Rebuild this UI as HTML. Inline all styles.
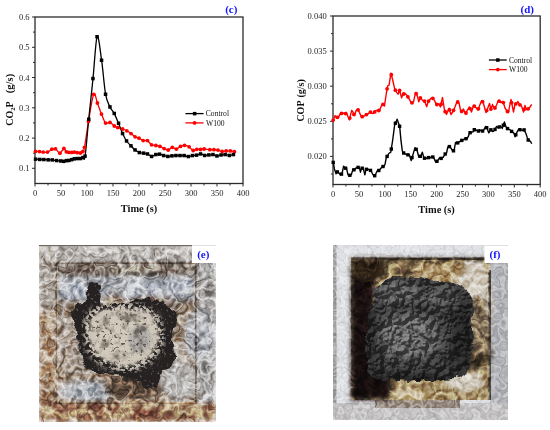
<!DOCTYPE html>
<html><head><meta charset="utf-8"><style>
html,body{margin:0;padding:0;background:#fff;}
body{width:550px;height:430px;overflow:hidden;}
svg{display:block;}
</style></head><body>
<svg width="550" height="430" viewBox="0 0 550 430">
<defs>
 <filter id="soft3" x="-5%" y="-5%" width="110%" height="110%"><feGaussianBlur stdDeviation="2.5"/></filter>
 <filter id="soft2" x="-5%" y="-5%" width="110%" height="110%"><feGaussianBlur stdDeviation="1.5"/></filter>
 <filter id="soft07" x="-5%" y="-5%" width="110%" height="110%"><feGaussianBlur stdDeviation="0.7"/></filter>
 <filter id="soft1" x="-5%" y="-5%" width="110%" height="110%"><feGaussianBlur stdDeviation="1"/></filter>
 <filter id="foilBig" x="0" y="0" width="100%" height="100%" color-interpolation-filters="sRGB">
  <feTurbulence type="fractalNoise" baseFrequency="0.035" numOctaves="3" seed="7" result="n"/>
  <feColorMatrix in="n" type="matrix" values="1 0 0 0 0  1 0 0 0 0  1 0 0 0 0  0 0 0 0 1"/>
  <feComponentTransfer><feFuncR type="table" tableValues="0.5 0.22 0.8 0.35 0.62 0.2 0.88 0.45 0.15 0.75 0.4 0.6"/><feFuncG type="table" tableValues="0.5 0.22 0.8 0.35 0.62 0.2 0.88 0.45 0.15 0.75 0.4 0.6"/><feFuncB type="table" tableValues="0.5 0.22 0.8 0.35 0.62 0.2 0.88 0.45 0.15 0.75 0.4 0.6"/></feComponentTransfer>
 </filter>
 <filter id="foilSmall" x="0" y="0" width="100%" height="100%" color-interpolation-filters="sRGB">
  <feTurbulence type="fractalNoise" baseFrequency="0.09" numOctaves="2" seed="4" result="n"/>
  <feColorMatrix in="n" type="matrix" values="1 0 0 0 0  1 0 0 0 0  1 0 0 0 0  0 0 0 0 1"/>
  <feComponentTransfer><feFuncR type="table" tableValues="0.5 0.22 0.8 0.35 0.62 0.2 0.88 0.45 0.15 0.75 0.4 0.6"/><feFuncG type="table" tableValues="0.5 0.22 0.8 0.35 0.62 0.2 0.88 0.45 0.15 0.75 0.4 0.6"/><feFuncB type="table" tableValues="0.5 0.22 0.8 0.35 0.62 0.2 0.88 0.45 0.15 0.75 0.4 0.6"/></feComponentTransfer>
 </filter>
 <filter id="creaseS" x="0" y="0" width="100%" height="100%" color-interpolation-filters="sRGB">
  <feTurbulence type="turbulence" baseFrequency="0.11" numOctaves="2" seed="5" result="n"/>
  <feColorMatrix in="n" type="matrix" values="0 0 0 0 0.22  0 0 0 0 0.22  0 0 0 0 0.24  -6 0 0 0 1.1"/>
 </filter>
 <filter id="creaseL" x="0" y="0" width="100%" height="100%" color-interpolation-filters="sRGB">
  <feTurbulence type="turbulence" baseFrequency="0.04" numOctaves="2" seed="15" result="n"/>
  <feColorMatrix in="n" type="matrix" values="0 0 0 0 0.2  0 0 0 0 0.18  0 0 0 0 0.16  -7 0 0 0 1.0"/>
 </filter>
 <filter id="ashTex" x="0" y="0" width="100%" height="100%" color-interpolation-filters="sRGB">
  <feTurbulence type="fractalNoise" baseFrequency="0.09" numOctaves="3" seed="11" result="n"/>
  <feColorMatrix in="n" type="matrix" values="0 0 0 0 1  0 0 0 0 1  0 0 0 0 1  0 0 0 -4 2.1" result="a"/>
  <feFlood flood-color="rgb(150,146,142)"/>
  <feComposite in2="a" operator="in" result="mott"/>
  <feTurbulence type="fractalNoise" baseFrequency="0.3" numOctaves="2" seed="13" result="n2"/>
  <feColorMatrix in="n2" type="matrix" values="0 0 0 0 1  0 0 0 0 1  0 0 0 0 1  0 0 0 -10 3.8" result="a2"/>
  <feFlood flood-color="rgb(120,114,108)"/>
  <feComposite in2="a2" operator="in" result="specks"/>
  <feFlood flood-color="#fff" result="w"/>
  <feComposite in="mott" in2="w" operator="over" result="m1"/>
  <feComposite in="specks" in2="m1" operator="over"/>
 </filter>
 <filter id="charTex" x="0" y="0" width="100%" height="100%" color-interpolation-filters="sRGB">
  <feTurbulence type="fractalNoise" baseFrequency="0.33" numOctaves="2" seed="3" result="n"/>
  <feColorMatrix type="matrix" values="0 0 0 0 0.55  0 0 0 0 0.53  0 0 0 0 0.51  0 0 0 9 -5.9"/>
 </filter>
 <filter id="charTex2" x="0" y="0" width="100%" height="100%" color-interpolation-filters="sRGB">
  <feTurbulence type="fractalNoise" baseFrequency="0.07" numOctaves="4" seed="9" result="n"/>
  <feComponentTransfer in="n" result="n2"><feFuncA type="table" tableValues="0 1 0.1 0.9 0"/></feComponentTransfer>
  <feSpecularLighting in="n2" surfaceScale="5" specularConstant="0.8" specularExponent="9" lighting-color="#fff" result="s"><feDistantLight azimuth="235" elevation="50"/></feSpecularLighting>
  <feDiffuseLighting in="n2" surfaceScale="5" lighting-color="#fff" diffuseConstant="0.8" result="d"><feDistantLight azimuth="235" elevation="32"/></feDiffuseLighting>
  <feComposite in="d" in2="s" operator="arithmetic" k2="0.75" k3="0.3"/>
 </filter>
 <filter id="soft5" x="-20%" y="-20%" width="140%" height="140%"><feGaussianBlur stdDeviation="4.5"/></filter>
 <filter id="soft8" x="-20%" y="-20%" width="140%" height="140%"><feGaussianBlur stdDeviation="7"/></filter>
 <filter id="rough2" x="-8%" y="-8%" width="116%" height="116%">
  <feTurbulence type="fractalNoise" baseFrequency="0.1" numOctaves="3" seed="6" result="t"/>
  <feDisplacementMap in="SourceGraphic" in2="t" scale="9" xChannelSelector="R" yChannelSelector="G" result="dd"/>
  <feGaussianBlur in="dd" stdDeviation="0.5"/>
 </filter>
 <filter id="rough" x="-5%" y="-5%" width="110%" height="110%">
  <feTurbulence type="fractalNoise" baseFrequency="0.15" numOctaves="2" seed="2" result="t"/>
  <feDisplacementMap in="SourceGraphic" in2="t" scale="6" xChannelSelector="R" yChannelSelector="G" result="dd"/>
  <feGaussianBlur in="dd" stdDeviation="0.6"/>
 </filter>
 <filter id="edgeSpecks" x="0" y="0" width="100%" height="100%" color-interpolation-filters="sRGB">
  <feTurbulence type="fractalNoise" baseFrequency="0.28" numOctaves="2" seed="17" result="n"/>
  <feColorMatrix type="matrix" values="0 0 0 0 0.8  0 0 0 0 0.77  0 0 0 0 0.72  0 0 0 8 -3.6"/>
 </filter>
 <filter id="mblur" x="-10%" y="-10%" width="120%" height="120%"><feGaussianBlur stdDeviation="2.5"/></filter>
 <mask id="ashEdgeMask" maskUnits="userSpaceOnUse" x="0" y="0" width="550" height="430"><path d="M90.6 320.2C92.1 317.7 94.9 313.9 98 312.1C101 310.3 105 310 109 309.4C113 308.8 117.5 308.5 121.8 308.5C126.1 308.5 130.6 308.8 134.6 309.4C138.6 310 142.5 310.6 145.5 312.1C148.6 313.6 151 315.9 152.9 318.4C154.7 321 155.6 324.5 156.6 327.5C157.5 330.5 158.3 333.5 158.3 336.5C158.3 339.6 157.8 343 156.6 345.7C155.3 348.4 153.2 350.5 151.1 352.9C149 355.3 146.8 358 143.7 360.2C140.7 362.3 136.4 364.6 132.7 365.6C129.1 366.5 125.5 366.5 121.8 366.1C118.1 365.6 114.1 364.3 110.8 363C107.4 361.6 104.2 359.6 101.6 357.8C99 355.9 96.9 354.1 95.2 352C93.5 350 92.5 348.6 91.6 345.7C90.6 342.8 90.1 337.8 89.7 334.8C89.3 331.7 89 329.9 89.1 327.5C89.3 325.1 89.1 322.8 90.6 320.2Z" fill="none" stroke="#fff" stroke-width="13" filter="url(#mblur)"/></mask>
 <clipPath id="eAshClip"><path d="M90.6 320.2C92.1 317.7 94.9 313.9 98 312.1C101 310.3 105 310 109 309.4C113 308.8 117.5 308.5 121.8 308.5C126.1 308.5 130.6 308.8 134.6 309.4C138.6 310 142.5 310.6 145.5 312.1C148.6 313.6 151 315.9 152.9 318.4C154.7 321 155.6 324.5 156.6 327.5C157.5 330.5 158.3 333.5 158.3 336.5C158.3 339.6 157.8 343 156.6 345.7C155.3 348.4 153.2 350.5 151.1 352.9C149 355.3 146.8 358 143.7 360.2C140.7 362.3 136.4 364.6 132.7 365.6C129.1 366.5 125.5 366.5 121.8 366.1C118.1 365.6 114.1 364.3 110.8 363C107.4 361.6 104.2 359.6 101.6 357.8C99 355.9 96.9 354.1 95.2 352C93.5 350 92.5 348.6 91.6 345.7C90.6 342.8 90.1 337.8 89.7 334.8C89.3 331.7 89 329.9 89.1 327.5C89.3 325.1 89.1 322.8 90.6 320.2Z"/></clipPath>
 <clipPath id="eDarkClip"><path d="M100.8 301.7C102.6 303.7 107.6 306 111.4 306.3C115.2 306.6 119.5 304.3 123.5 303.3C127.5 302.3 131.6 301 135.6 300.2C139.6 299.4 143.7 298.7 147.7 298.7C151.7 298.7 156.5 299.2 159.8 300.2C163.1 301.2 165 302.8 167.3 304.8C169.6 306.8 171.9 309.5 173.4 312.3C174.9 315.1 176.2 318.4 176.4 321.4C176.7 324.4 175.7 327.5 174.9 330.5C174.2 333.5 172.2 336.5 171.9 339.5C171.7 342.5 172.9 345.6 173.4 348.6C173.9 351.6 175.4 354.7 174.9 357.7C174.4 360.7 172.3 364.7 170.3 366.7C168.3 368.7 164.6 367.8 162.8 369.8C161.1 371.8 160.8 376 159.8 378.8C158.8 381.6 158.5 384.9 156.7 386.4C154.9 387.9 151.7 388.1 149.2 387.9C146.7 387.6 144.4 386.4 141.6 384.9C138.8 383.4 136.1 380.3 132.6 378.8C129.1 377.3 124.5 376.6 120.5 375.8C116.5 375.1 112.4 374.8 108.4 374.3C104.4 373.8 99.8 374.1 96.3 372.8C92.8 371.5 89.7 369.2 87.2 366.7C84.7 364.2 82.7 361.2 81.2 357.7C79.7 354.2 78.9 349.6 78.1 345.6C77.3 341.6 77.3 337.3 76.6 333.5C75.8 329.7 74.3 326.4 73.6 322.9C72.8 319.4 71.8 315.1 72.1 312.3C72.3 309.5 73.3 307.6 75.1 306.3C76.9 305.1 80.9 305.8 82.7 304.8C84.5 303.8 85.2 302.5 85.7 300.2C86.2 297.9 85.2 293.7 85.7 291.2C86.2 288.7 87.2 286.4 88.7 285.1C90.2 283.8 93 283.4 94.8 283.6C96.6 283.9 98.3 284.8 99.3 286.6C100.3 288.4 100.5 291.7 100.8 294.2C101 296.7 99 299.7 100.8 301.7Z"/></clipPath>
 <clipPath id="fCharClip"><path d="M377 288C379 284.8 381.2 283 384 281C386.8 279 390.5 276.7 394 276C397.5 275.3 401.3 276.5 405 277C408.7 277.5 412.2 278.7 416 279C419.8 279.3 424 278.5 428 279C432 279.5 436 281.3 440 282C444 282.7 448.3 282.2 452 283C455.7 283.8 459.2 285.2 462 287C464.8 288.8 467.3 291 469 294C470.7 297 471.5 301 472 305C472.5 309 472.2 313.5 472 318C471.8 322.5 470.8 327.3 471 332C471.2 336.7 473 341.3 473 346C473 350.7 472 355.7 471 360C470 364.3 469.2 369.2 467 372C464.8 374.8 461.7 375.7 458 377C454.3 378.3 449.7 379.3 445 380C440.3 380.7 435 380.8 430 381C425 381.2 420 381.2 415 381C410 380.8 404.5 380.3 400 380C395.5 379.7 392.2 379.5 388 379C383.8 378.5 378.3 378.5 375 377C371.7 375.5 369.5 373.7 368 370C366.5 366.3 366.2 360.8 366 355C365.8 349.2 366.5 341.2 367 335C367.5 328.8 368.2 323.8 369 318C369.8 312.2 370.7 305 372 300C373.3 295 375 291.2 377 288Z"/></clipPath>
</defs>
<rect width="550" height="430" fill="#fff"/>
<rect x="35" y="17" width="208" height="166.5" fill="none" stroke="#2b2b2b" stroke-width="1.3"/><path d="M35 183.5v3M48 183.5v2M61 183.5v3M74 183.5v2M87 183.5v3M100 183.5v2M113 183.5v3M126 183.5v2M139 183.5v3M152 183.5v2M165 183.5v3M178 183.5v2M191 183.5v3M204 183.5v2M217 183.5v3M230 183.5v2M243 183.5v3M35 168.3h-3M35 138.1h-3M35 107.8h-3M35 77.5h-3M35 47.3h-3M35 17h-3M35 153.2h-2M35 122.9h-2M35 92.7h-2M35 62.4h-2M35 32.1h-2" stroke="#2b2b2b" stroke-width="1" fill="none"/><g font-family="Liberation Serif, serif" font-size="8.5" fill="#262626"><text x="35" y="196" text-anchor="middle">0</text><text x="61" y="196" text-anchor="middle">50</text><text x="87" y="196" text-anchor="middle">100</text><text x="113" y="196" text-anchor="middle">150</text><text x="139" y="196" text-anchor="middle">200</text><text x="165" y="196" text-anchor="middle">250</text><text x="191" y="196" text-anchor="middle">300</text><text x="217" y="196" text-anchor="middle">350</text><text x="243" y="196" text-anchor="middle">400</text><text x="29.5" y="171.3" text-anchor="end">0.1</text><text x="29.5" y="141.1" text-anchor="end">0.2</text><text x="29.5" y="110.8" text-anchor="end">0.3</text><text x="29.5" y="80.5" text-anchor="end">0.4</text><text x="29.5" y="50.3" text-anchor="end">0.5</text><text x="29.5" y="20" text-anchor="end">0.6</text></g><text x="139" y="211.7" text-anchor="middle" font-family="Liberation Serif, serif" font-weight="bold" font-size="10.4" fill="#111">Time (s)</text><g font-family="Liberation Serif, serif" font-weight="bold" font-size="10" fill="#111"><text transform="translate(12.8 125.8) rotate(-90)">CO<tspan font-size="6.5" dy="2">2</tspan><tspan dy="-2">P</tspan></text><text transform="translate(12.8 73.8) rotate(-90)" text-anchor="end" font-size="10.6">(g/s)</text></g><path d="M35.5 151.4C36.2 151.4 38.2 151.5 39.5 151.6C40.8 151.7 41.9 152 43.2 152.1C44.5 152.2 46 152.6 47.5 152.1C49 151.6 50.6 149.8 51.9 149.2C53.2 148.6 54.2 148.1 55.5 148.8C56.8 149.5 58.5 153.2 59.9 153.2C61.3 153.1 62.8 148.7 63.9 148.5C65 148.3 65.6 151.2 66.4 151.8C67.2 152.5 68 152.3 68.9 152.4C69.8 152.5 70.9 152.5 71.8 152.4C72.7 152.3 73.4 152.1 74.3 152.1C75.2 152.1 76.2 152.5 77.2 152.7C78.2 152.8 79.5 153.2 80.4 153C81.4 152.8 82.2 152.4 82.9 151.5C83.6 150.6 83.6 152.3 84.5 147.3C85.4 142.3 87 130.3 88.5 121.5C90 112.7 92.2 97.4 93.7 94.3C95.2 91.2 96.1 99.7 97.4 103C98.7 106.3 100.1 110.8 101.5 114.1C102.9 117.4 104.2 121.7 105.6 123.1C107 124.5 108.5 121.9 110 122.4C111.5 122.9 113 125.1 114.3 126C115.6 126.9 116.3 127.1 117.7 127.6C119.1 128.1 121.1 128.5 122.6 129C124.1 129.5 125.4 130 126.8 130.8C128.2 131.6 129.6 132.6 131 133.6C132.4 134.6 133.8 136 135.1 136.8C136.4 137.6 137.7 137.6 139 138.2C140.3 138.8 141.8 140.2 143.2 140.6C144.6 141 146 139.9 147.4 140.6C148.8 141.3 150.2 144 151.6 144.8C153 145.6 154.5 145.2 155.9 145.5C157.3 145.8 158.6 145.9 160 146.4C161.4 146.9 162.7 148 164.1 148.6C165.5 149.2 166.8 150.2 168.2 150C169.6 149.8 170.9 147.5 172.3 147.3C173.7 147.2 175 149.2 176.4 149.1C177.8 148.9 179.2 147 180.5 146.4C181.8 145.8 183.1 145.2 184.5 145.3C185.9 145.4 187.7 145.9 189.1 146.8C190.5 147.7 191.9 150.1 193.2 150.5C194.5 150.9 195.6 149.5 196.8 149.3C198 149.1 199.3 149.6 200.5 149.5C201.7 149.4 202.5 149 204.1 149C205.7 149 208.2 149.6 209.8 149.7C211.4 149.8 212.5 149.6 213.9 149.7C215.3 149.8 216.6 149.8 218 150.1C219.4 150.4 220.7 151.4 222.1 151.5C223.5 151.6 224.8 151 226.2 150.9C227.6 150.8 228.9 150.8 230.3 150.9C231.7 151 233.7 151.6 234.4 151.7" fill="none" stroke="#ff0000" stroke-width="1.3" stroke-linejoin="round"/><path d="M35.5 159.2C36.2 159.2 38.3 159.3 39.7 159.4C41.1 159.5 42.5 159.5 43.9 159.6C45.3 159.7 46.7 159.7 48.1 159.8C49.5 159.9 50.9 159.9 52.3 160C53.7 160.1 55.1 160.4 56.5 160.6C57.9 160.8 59.4 160.9 60.6 161C61.8 161.1 62.8 161.4 63.8 161.3C64.8 161.2 65.6 160.8 66.4 160.7C67.2 160.5 68 160.6 68.9 160.4C69.8 160.2 70.9 160 71.8 159.7C72.7 159.4 73.4 159 74.3 158.8C75.2 158.6 76.2 158.6 77.2 158.5C78.2 158.4 79.5 158.7 80.4 158.5C81.4 158.3 82.1 157.9 82.9 157.5C83.7 157.1 84.1 162.6 85.1 156.2C86.1 149.8 87.4 132.2 88.7 119.3C90 106.3 91.6 92.3 93 78.5C94.4 64.7 95.7 39.8 97.1 36.7C98.5 33.7 100.2 50.6 101.6 60.2C103 69.8 104.2 86.5 105.6 94.3C107 102.1 108.6 103.7 110 106.9C111.4 110.1 112.8 110.7 114.2 113.4C115.6 116.1 117.1 119.9 118.5 123.3C119.9 126.7 121.3 130.7 122.6 133.6C123.9 136.5 125.1 139 126.5 141C127.9 143 129.6 144.3 131 145.8C132.4 147.3 133.7 148.9 135.1 150C136.5 151.1 137.9 152 139.3 152.5C140.7 153 142.2 153 143.5 153.2C144.8 153.4 146.1 153.4 147.4 153.9C148.8 154.4 150.2 156.3 151.6 156.4C153 156.5 154.5 155 155.8 154.6C157.1 154.2 158.3 154 159.6 154.2C160.9 154.3 162.3 155.1 163.7 155.5C165.1 155.9 166.4 156.3 167.8 156.4C169.2 156.5 170.5 156 171.9 155.8C173.3 155.7 174.6 155.6 176 155.5C177.4 155.4 178.7 155.5 180.1 155.5C181.5 155.5 182.8 155.4 184.2 155.6C185.6 155.8 186.9 156.5 188.3 156.5C189.7 156.5 191 155.8 192.4 155.6C193.8 155.4 195.1 155.5 196.5 155.2C197.9 154.9 199.2 153.9 200.6 153.9C202 153.9 203.3 155.2 204.7 155.4C206.1 155.6 207.4 155.1 208.8 155C210.2 154.9 211.5 154.4 212.9 154.6C214.3 154.8 215.6 155.9 217 156C218.4 156.1 219.7 155.2 221.1 155C222.5 154.8 223.8 154.5 225.2 154.6C226.6 154.7 227.9 155.4 229.3 155.4C230.7 155.4 232.7 154.7 233.4 154.6" fill="none" stroke="#000" stroke-width="1.3" stroke-linejoin="round"/><g fill="#ff0000"><circle cx="35.5" cy="151.4" r="1.9"/><circle cx="39.5" cy="151.6" r="1.9"/><circle cx="43.2" cy="152.1" r="1.9"/><circle cx="47.5" cy="152.1" r="1.9"/><circle cx="51.9" cy="149.2" r="1.9"/><circle cx="55.5" cy="148.8" r="1.9"/><circle cx="59.9" cy="153.2" r="1.9"/><circle cx="63.9" cy="148.5" r="1.9"/><circle cx="66.4" cy="151.8" r="1.9"/><circle cx="68.9" cy="152.4" r="1.9"/><circle cx="71.8" cy="152.4" r="1.9"/><circle cx="74.3" cy="152.1" r="1.9"/><circle cx="77.2" cy="152.7" r="1.9"/><circle cx="80.4" cy="153" r="1.9"/><circle cx="82.9" cy="151.5" r="1.9"/><circle cx="84.5" cy="147.3" r="1.9"/><circle cx="88.5" cy="121.5" r="1.9"/><circle cx="93.7" cy="94.3" r="1.9"/><circle cx="97.4" cy="103" r="1.9"/><circle cx="101.5" cy="114.1" r="1.9"/><circle cx="105.6" cy="123.1" r="1.9"/><circle cx="110" cy="122.4" r="1.9"/><circle cx="114.3" cy="126" r="1.9"/><circle cx="117.7" cy="127.6" r="1.9"/><circle cx="122.6" cy="129" r="1.9"/><circle cx="126.8" cy="130.8" r="1.9"/><circle cx="131" cy="133.6" r="1.9"/><circle cx="135.1" cy="136.8" r="1.9"/><circle cx="139" cy="138.2" r="1.9"/><circle cx="143.2" cy="140.6" r="1.9"/><circle cx="147.4" cy="140.6" r="1.9"/><circle cx="151.6" cy="144.8" r="1.9"/><circle cx="155.9" cy="145.5" r="1.9"/><circle cx="160" cy="146.4" r="1.9"/><circle cx="164.1" cy="148.6" r="1.9"/><circle cx="168.2" cy="150" r="1.9"/><circle cx="172.3" cy="147.3" r="1.9"/><circle cx="176.4" cy="149.1" r="1.9"/><circle cx="180.5" cy="146.4" r="1.9"/><circle cx="184.5" cy="145.3" r="1.9"/><circle cx="189.1" cy="146.8" r="1.9"/><circle cx="193.2" cy="150.5" r="1.9"/><circle cx="196.8" cy="149.3" r="1.9"/><circle cx="200.5" cy="149.5" r="1.9"/><circle cx="204.1" cy="149" r="1.9"/><circle cx="209.8" cy="149.7" r="1.9"/><circle cx="213.9" cy="149.7" r="1.9"/><circle cx="218" cy="150.1" r="1.9"/><circle cx="222.1" cy="151.5" r="1.9"/><circle cx="226.2" cy="150.9" r="1.9"/><circle cx="230.3" cy="150.9" r="1.9"/><circle cx="234.4" cy="151.7" r="1.9"/></g><g fill="#000"><rect x="33.8" y="157.4" width="3.5" height="3.5"/><rect x="38" y="157.7" width="3.5" height="3.5"/><rect x="42.1" y="157.8" width="3.5" height="3.5"/><rect x="46.4" y="158.1" width="3.5" height="3.5"/><rect x="50.5" y="158.2" width="3.5" height="3.5"/><rect x="54.8" y="158.8" width="3.5" height="3.5"/><rect x="58.9" y="159.2" width="3.5" height="3.5"/><rect x="62" y="159.6" width="3.5" height="3.5"/><rect x="64.7" y="158.9" width="3.5" height="3.5"/><rect x="67.2" y="158.7" width="3.5" height="3.5"/><rect x="70" y="157.9" width="3.5" height="3.5"/><rect x="72.5" y="157.1" width="3.5" height="3.5"/><rect x="75.5" y="156.8" width="3.5" height="3.5"/><rect x="78.7" y="156.8" width="3.5" height="3.5"/><rect x="81.2" y="155.8" width="3.5" height="3.5"/><rect x="83.3" y="154.4" width="3.5" height="3.5"/><rect x="87" y="117.5" width="3.5" height="3.5"/><rect x="91.2" y="76.8" width="3.5" height="3.5"/><rect x="95.3" y="35" width="3.5" height="3.5"/><rect x="99.8" y="58.5" width="3.5" height="3.5"/><rect x="103.8" y="92.5" width="3.5" height="3.5"/><rect x="108.2" y="105.2" width="3.5" height="3.5"/><rect x="112.5" y="111.7" width="3.5" height="3.5"/><rect x="116.8" y="121.5" width="3.5" height="3.5"/><rect x="120.8" y="131.8" width="3.5" height="3.5"/><rect x="124.8" y="139.2" width="3.5" height="3.5"/><rect x="129.2" y="144.1" width="3.5" height="3.5"/><rect x="133.3" y="148.2" width="3.5" height="3.5"/><rect x="137.6" y="150.8" width="3.5" height="3.5"/><rect x="141.8" y="151.4" width="3.5" height="3.5"/><rect x="145.7" y="152.2" width="3.5" height="3.5"/><rect x="149.8" y="154.7" width="3.5" height="3.5"/><rect x="154.1" y="152.8" width="3.5" height="3.5"/><rect x="157.8" y="152.4" width="3.5" height="3.5"/><rect x="161.9" y="153.8" width="3.5" height="3.5"/><rect x="166.1" y="154.7" width="3.5" height="3.5"/><rect x="170.2" y="154.1" width="3.5" height="3.5"/><rect x="174.2" y="153.8" width="3.5" height="3.5"/><rect x="178.3" y="153.8" width="3.5" height="3.5"/><rect x="182.4" y="153.8" width="3.5" height="3.5"/><rect x="186.6" y="154.8" width="3.5" height="3.5"/><rect x="190.7" y="153.8" width="3.5" height="3.5"/><rect x="194.8" y="153.4" width="3.5" height="3.5"/><rect x="198.8" y="152.2" width="3.5" height="3.5"/><rect x="202.9" y="153.7" width="3.5" height="3.5"/><rect x="207.1" y="153.2" width="3.5" height="3.5"/><rect x="211.2" y="152.8" width="3.5" height="3.5"/><rect x="215.2" y="154.2" width="3.5" height="3.5"/><rect x="219.3" y="153.2" width="3.5" height="3.5"/><rect x="223.4" y="152.8" width="3.5" height="3.5"/><rect x="227.6" y="153.7" width="3.5" height="3.5"/><rect x="231.7" y="152.8" width="3.5" height="3.5"/></g><path d="M185.4 113.6H203.6" stroke="#000" stroke-width="1.3"/><rect x="192.9" y="111.9" width="3.5" height="3.5" fill="#000"/><path d="M185.4 122.9H203.6" stroke="#f00" stroke-width="1.3"/><circle cx="194.6" cy="122.9" r="1.9" fill="#f00"/><g font-family="Liberation Serif, serif" font-size="7.6" fill="#111"><text x="205.8" y="116.3">Control</text><text x="206" y="125.6">W100</text></g><text x="231.3" y="12.7" text-anchor="middle" font-family="Liberation Serif, serif" font-weight="bold" font-size="11" fill="#1414ff">(c)</text>
<rect x="333" y="16" width="207.2" height="168.5" fill="none" stroke="#2b2b2b" stroke-width="1.3"/><path d="M333 184.5v3M345.9 184.5v2M358.9 184.5v3M371.9 184.5v2M384.8 184.5v3M397.8 184.5v2M410.7 184.5v3M423.6 184.5v2M436.6 184.5v3M449.6 184.5v2M462.5 184.5v3M475.4 184.5v2M488.4 184.5v3M501.3 184.5v2M514.3 184.5v3M527.2 184.5v2M540.2 184.5v3M333 156.4h-3M333 121.3h-3M333 86.2h-3M333 51.1h-3M333 16h-3M333 174h-2M333 138.9h-2M333 103.8h-2M333 68.7h-2M333 33.6h-2" stroke="#2b2b2b" stroke-width="1" fill="none"/><g font-family="Liberation Serif, serif" font-size="8.5" fill="#262626"><text x="333" y="197.2" text-anchor="middle">0</text><text x="358.9" y="197.2" text-anchor="middle">50</text><text x="384.8" y="197.2" text-anchor="middle">100</text><text x="410.7" y="197.2" text-anchor="middle">150</text><text x="436.6" y="197.2" text-anchor="middle">200</text><text x="462.5" y="197.2" text-anchor="middle">250</text><text x="488.4" y="197.2" text-anchor="middle">300</text><text x="514.3" y="197.2" text-anchor="middle">350</text><text x="540.2" y="197.2" text-anchor="middle">400</text><text x="326.7" y="159.4" text-anchor="end">0.020</text><text x="326.7" y="124.3" text-anchor="end">0.025</text><text x="326.7" y="89.2" text-anchor="end">0.030</text><text x="326.7" y="54.1" text-anchor="end">0.035</text><text x="326.7" y="19" text-anchor="end">0.040</text></g><text x="436.6" y="213" text-anchor="middle" font-family="Liberation Serif, serif" font-weight="bold" font-size="10.4" fill="#111">Time (s)</text><g font-family="Liberation Serif, serif" font-weight="bold" font-size="10" fill="#111"><text transform="translate(304.2 121.6) rotate(-90)">COP</text><text transform="translate(304.2 79.2) rotate(-90)" text-anchor="end">(g/s)</text></g><polyline points="333.3,120.1 334.9,115.7 336.5,116.8 338.2,117.9 339.8,114.6 340.9,113 342.5,114.1 343.6,113 345.3,114.1 346.4,112.4 348,116.8 349.4,119.9 350.7,114.1 351.8,110.3 352.9,111.9 354.5,115.7 356.2,110.3 357.8,109.2 359.4,112.4 361.1,116.3 362.7,116.8 364.9,115.7 367.1,114.1 368.7,113.5 369.8,111.4 371.4,113 373.1,113.5 374.7,111.9 376.3,110.3 378,110.8 379.6,110.3 381.3,105.9 382.9,104.3 384.5,105.9 386.3,93.5 387.7,85.8 389.1,85.1 390.9,73.2 392.6,79.5 394.6,88.6 396.5,92.1 398.1,94.2 399.5,90 401.6,97.7 403,94.2 405.1,93.5 407.2,95.6 409.3,99.1 411.4,103.3 413.5,101.8 415.6,92.4 417.4,96.3 418.8,101.8 420.4,97.7 422.5,100.4 424.6,101.1 426.7,106.7 428.1,101.8 430.2,99.1 432.3,97.7 434.4,100.4 436.5,104.6 438.6,103.9 440.5,107 442.5,97.5 444.5,110 446.5,114.5 449,108.5 451,114.5 453,111.5 455,107 457,101.5 459,103 461,112.5 463.5,109 465.5,114 467.5,110 469.5,107 471.5,112 473.5,105.5 475.5,107 478,110 480,104.5 481.5,101 483,102 486,112.5 488,107.5 489.5,103.5 491,109.5 492.5,104.5 494.5,109 496.5,105 498.5,100.5 500.5,102.5 503,101.5 505,108 507,111 508.5,112.5 510,104 511,99.5 512.5,107 513.5,112 515,104.5 517,103 518,101.5 519.5,104.5 521.5,106 523.5,112 525,105.5 526.5,109.5 528,109 530,107 531.7,104.4" fill="none" stroke="#ff0000" stroke-width="1.4" stroke-linejoin="round"/><polyline points="333.3,162.4 334.4,168.9 336,173.8 337.6,171.6 338.7,172.7 340.4,174.9 342,173.8 343.6,166.2 345.3,168.4 346.4,167.8 348,174.9 349.6,175.4 351.3,174.9 352.9,169.4 354.5,170 356.2,167.8 357.8,167.3 359.4,167.8 360.5,172.2 361.6,167.8 363.3,168.9 364.9,174.9 366,169.4 367.6,168.9 369.3,170 370.9,170.5 372.5,173.8 374.2,176.5 375.8,173.8 377.4,170.5 379.1,170.5 380.7,168.4 382.3,166.7 384,166.2 385.1,164 386.2,158 387.8,155.3 388.8,153.5 390.8,152.2 392.7,140 394.6,125.3 397.1,119.2 399.7,126.6 401,140.7 402.3,150.9 403.5,152.8 405.5,154.1 407.4,154.8 409.3,154.8 411.2,160.5 413.1,154.1 415,147.7 417,150.3 418.9,157.3 420.8,156 422.3,152.2 424,158 425.9,158.6 427.8,157.3 429.8,158 431.7,156.7 433.6,157.3 435.5,161.8 437.4,161.2 439.3,158 441.4,158.5 443.3,157.2 445.2,154 446.5,153.4 447.8,147 449.1,146.3 451,148.2 452.9,151.4 454.2,150.2 455.5,142.5 457.4,143.1 459.3,141.9 461.2,140.6 463.1,139.9 465,138.7 467,138.7 468.5,136.1 469.5,132.9 471.4,132.3 473.4,131.6 474.6,129.1 476.6,130.3 478.5,131 479.8,129.7 481.7,131.6 483.6,130.3 485.5,126.5 486.9,127.8 488.8,132.9 490.8,129.7 492.7,131.6 494.6,130.3 496.5,126.5 498.4,127.8 500.3,125.9 502.3,128.4 504.4,122 506.1,127.1 508,129.1 509.9,129.7 511.9,131.6 513.8,132.9 515.1,136.7 516.3,133.5 518.2,129.7 520.2,129.7 522.1,130.3 524,129.7 525.9,133.5 527.2,137.4 528.5,140.6 530.4,141.2 531.7,143.8" fill="none" stroke="#000" stroke-width="1.4" stroke-linejoin="round"/><g fill="#ff0000"><circle cx="333.2" cy="120.1" r="1.9"/><circle cx="337.3" cy="117.3" r="1.9"/><circle cx="341.5" cy="113.4" r="1.9"/><circle cx="345.6" cy="113.6" r="1.9"/><circle cx="349.8" cy="118.1" r="1.9"/><circle cx="353.9" cy="114.4" r="1.9"/><circle cx="358.1" cy="109.8" r="1.9"/><circle cx="362.2" cy="116.7" r="1.9"/><circle cx="366.4" cy="114.6" r="1.9"/><circle cx="370.5" cy="112.1" r="1.9"/><circle cx="374.7" cy="111.9" r="1.9"/><circle cx="378.8" cy="110.5" r="1.9"/><circle cx="383" cy="104.4" r="1.9"/><circle cx="387.1" cy="88.8" r="1.9"/><circle cx="391.3" cy="74.7" r="1.9"/><circle cx="395.4" cy="90.2" r="1.9"/><circle cx="399.6" cy="90.4" r="1.9"/><circle cx="403.7" cy="94" r="1.9"/><circle cx="407.9" cy="96.8" r="1.9"/><circle cx="412" cy="102.8" r="1.9"/><circle cx="416.2" cy="93.7" r="1.9"/><circle cx="420.3" cy="97.8" r="1.9"/><circle cx="424.5" cy="101.1" r="1.9"/><circle cx="428.6" cy="101.1" r="1.9"/><circle cx="432.8" cy="98.3" r="1.9"/><circle cx="436.9" cy="104.5" r="1.9"/><circle cx="441.1" cy="104.2" r="1.9"/><circle cx="445.2" cy="111.7" r="1.9"/><circle cx="449.4" cy="109.7" r="1.9"/><circle cx="453.5" cy="110.3" r="1.9"/><circle cx="457.7" cy="102" r="1.9"/><circle cx="461.8" cy="111.3" r="1.9"/><circle cx="466" cy="113" r="1.9"/><circle cx="470.1" cy="108.6" r="1.9"/><circle cx="474.3" cy="106.1" r="1.9"/><circle cx="478.4" cy="108.8" r="1.9"/><circle cx="482.6" cy="101.7" r="1.9"/><circle cx="486.7" cy="110.6" r="1.9"/><circle cx="490.9" cy="109.1" r="1.9"/><circle cx="495" cy="107.9" r="1.9"/><circle cx="499.2" cy="101.2" r="1.9"/><circle cx="503.3" cy="102.6" r="1.9"/><circle cx="507.5" cy="111.5" r="1.9"/><circle cx="511.6" cy="102.7" r="1.9"/><circle cx="515.8" cy="103.9" r="1.9"/><circle cx="519.9" cy="104.8" r="1.9"/><circle cx="524.1" cy="109.4" r="1.9"/><circle cx="528.2" cy="108.8" r="1.9"/></g><g fill="#000"><rect x="331.5" y="160.7" width="3.4" height="3.4"/><rect x="335.6" y="170.2" width="3.4" height="3.4"/><rect x="339.8" y="172.4" width="3.4" height="3.4"/><rect x="343.9" y="166.5" width="3.4" height="3.4"/><rect x="348.1" y="173.6" width="3.4" height="3.4"/><rect x="352.2" y="168.1" width="3.4" height="3.4"/><rect x="356.4" y="165.7" width="3.4" height="3.4"/><rect x="360.5" y="166.5" width="3.4" height="3.4"/><rect x="364.7" y="167.6" width="3.4" height="3.4"/><rect x="368.8" y="168.7" width="3.4" height="3.4"/><rect x="373" y="174" width="3.4" height="3.4"/><rect x="377.1" y="168.8" width="3.4" height="3.4"/><rect x="381.3" y="164.8" width="3.4" height="3.4"/><rect x="385.4" y="154.7" width="3.4" height="3.4"/><rect x="389.6" y="147.3" width="3.4" height="3.4"/><rect x="393.7" y="121.5" width="3.4" height="3.4"/><rect x="397.9" y="124.6" width="3.4" height="3.4"/><rect x="402" y="151.3" width="3.4" height="3.4"/><rect x="406.2" y="153.1" width="3.4" height="3.4"/><rect x="410.3" y="155.9" width="3.4" height="3.4"/><rect x="414.5" y="147.6" width="3.4" height="3.4"/><rect x="418.6" y="154.6" width="3.4" height="3.4"/><rect x="422.8" y="156.5" width="3.4" height="3.4"/><rect x="426.9" y="155.9" width="3.4" height="3.4"/><rect x="431.1" y="155.3" width="3.4" height="3.4"/><rect x="435.2" y="159.6" width="3.4" height="3.4"/><rect x="439.4" y="156.7" width="3.4" height="3.4"/><rect x="443.5" y="152.3" width="3.4" height="3.4"/><rect x="447.7" y="144.9" width="3.4" height="3.4"/><rect x="451.8" y="149.1" width="3.4" height="3.4"/><rect x="456" y="141.2" width="3.4" height="3.4"/><rect x="460.1" y="138.7" width="3.4" height="3.4"/><rect x="464.3" y="137" width="3.4" height="3.4"/><rect x="468.4" y="131" width="3.4" height="3.4"/><rect x="472.6" y="128" width="3.4" height="3.4"/><rect x="476.7" y="129.3" width="3.4" height="3.4"/><rect x="480.9" y="129.3" width="3.4" height="3.4"/><rect x="485" y="126" width="3.4" height="3.4"/><rect x="489.2" y="128.1" width="3.4" height="3.4"/><rect x="493.3" y="127.7" width="3.4" height="3.4"/><rect x="497.5" y="125.3" width="3.4" height="3.4"/><rect x="501.6" y="123.5" width="3.4" height="3.4"/><rect x="505.8" y="126.9" width="3.4" height="3.4"/><rect x="509.9" y="129.7" width="3.4" height="3.4"/><rect x="514.1" y="133.1" width="3.4" height="3.4"/><rect x="518.2" y="128" width="3.4" height="3.4"/><rect x="522.4" y="128.2" width="3.4" height="3.4"/><rect x="526.5" y="138.3" width="3.4" height="3.4"/></g><path d="M488.9 60H506.7" stroke="#000" stroke-width="1.3"/><rect x="496.1" y="58.3" width="3.5" height="3.5" fill="#000"/><path d="M488.9 69.6H506.7" stroke="#f00" stroke-width="1.3"/><circle cx="497.8" cy="69.6" r="1.9" fill="#f00"/><g font-family="Liberation Serif, serif" font-size="7.6" fill="#111"><text x="508.9" y="62.7">Control</text><text x="509" y="72.3">W100</text></g><text x="527.2" y="13.3" text-anchor="middle" font-family="Liberation Serif, serif" font-weight="bold" font-size="11" fill="#1414ff">(d)</text>

<svg x="39" y="245" width="177" height="177" viewBox="39 245 177 177" overflow="hidden">
 <g filter="url(#soft3)"><rect x="39" y="245" width="177" height="177" fill="rgb(164,154,144)"/><rect x="39" y="245" width="177" height="19" fill="rgb(184,180,176)"/><rect x="39" y="245" width="17" height="70" fill="rgb(178,170,162)"/><rect x="39" y="310" width="17" height="95" fill="rgb(172,146,122)"/><rect x="197" y="263" width="19" height="159" fill="rgb(174,172,170)"/><rect x="39" y="403" width="177" height="19" fill="rgb(160,126,98)"/><rect x="56" y="263" width="141" height="13" fill="rgb(138,126,114)"/><rect x="59" y="276" width="136" height="24" fill="rgb(172,174,180)"/><ellipse cx="75" cy="292" rx="15" ry="9" fill="rgb(184,190,200)"/><ellipse cx="145" cy="290" rx="18" ry="8" fill="rgb(186,190,200)"/><ellipse cx="179" cy="285" rx="14" ry="10" fill="rgb(184,188,198)"/><ellipse cx="114" cy="301" rx="12" ry="6" fill="rgb(150,126,106)"/><ellipse cx="151" cy="301" rx="20" ry="5" fill="rgb(146,124,106)"/><rect x="56" y="300" width="20" height="80" fill="rgb(164,148,134)"/><rect x="56" y="373" width="140" height="30" fill="rgb(156,136,118)"/><ellipse cx="89" cy="391" rx="30" ry="10" fill="rgb(186,190,196)"/><ellipse cx="133" cy="388" rx="30" ry="12" fill="rgb(100,80,64)"/><ellipse cx="179" cy="381" rx="18" ry="20" fill="rgb(192,190,188)"/><rect x="176" y="305" width="19" height="58" fill="rgb(162,144,126)"/><ellipse cx="199" cy="335" rx="14" ry="26" fill="rgb(174,176,182)"/></g>
 <g filter="url(#soft07)"><rect x="56" y="262.5" width="141" height="1.6" fill="rgb(120,106,94)"/><rect x="195" y="263" width="1.6" height="141" fill="rgb(118,106,96)"/><rect x="55.5" y="263" width="1.5" height="141" fill="rgb(125,108,92)"/><rect x="56" y="402.5" width="141" height="1.6" fill="rgb(120,94,70)"/></g>
 <rect x="39" y="245" width="177" height="177" filter="url(#foilBig)" style="mix-blend-mode:overlay" opacity="0.75"/>
 <path d="M39 245h177v177h-177z M56 263v141h140v-141h-140z" fill-rule="evenodd" filter="url(#foilSmall)" style="mix-blend-mode:overlay" opacity="0.6"/>
 <path d="M39 245h177v177h-177z M56 263v141h140v-141h-140z" fill-rule="evenodd" filter="url(#creaseS)" opacity="0.25"/>
 <rect x="56" y="263" width="141" height="140" filter="url(#creaseL)" opacity="0.25"/>
 <path d="M100.8 301.7C102.6 303.7 107.6 306 111.4 306.3C115.2 306.6 119.5 304.3 123.5 303.3C127.5 302.3 131.6 301 135.6 300.2C139.6 299.4 143.7 298.7 147.7 298.7C151.7 298.7 156.5 299.2 159.8 300.2C163.1 301.2 165 302.8 167.3 304.8C169.6 306.8 171.9 309.5 173.4 312.3C174.9 315.1 176.2 318.4 176.4 321.4C176.7 324.4 175.7 327.5 174.9 330.5C174.2 333.5 172.2 336.5 171.9 339.5C171.7 342.5 172.9 345.6 173.4 348.6C173.9 351.6 175.4 354.7 174.9 357.7C174.4 360.7 172.3 364.7 170.3 366.7C168.3 368.7 164.6 367.8 162.8 369.8C161.1 371.8 160.8 376 159.8 378.8C158.8 381.6 158.5 384.9 156.7 386.4C154.9 387.9 151.7 388.1 149.2 387.9C146.7 387.6 144.4 386.4 141.6 384.9C138.8 383.4 136.1 380.3 132.6 378.8C129.1 377.3 124.5 376.6 120.5 375.8C116.5 375.1 112.4 374.8 108.4 374.3C104.4 373.8 99.8 374.1 96.3 372.8C92.8 371.5 89.7 369.2 87.2 366.7C84.7 364.2 82.7 361.2 81.2 357.7C79.7 354.2 78.9 349.6 78.1 345.6C77.3 341.6 77.3 337.3 76.6 333.5C75.8 329.7 74.3 326.4 73.6 322.9C72.8 319.4 71.8 315.1 72.1 312.3C72.3 309.5 73.3 307.6 75.1 306.3C76.9 305.1 80.9 305.8 82.7 304.8C84.5 303.8 85.2 302.5 85.7 300.2C86.2 297.9 85.2 293.7 85.7 291.2C86.2 288.7 87.2 286.4 88.7 285.1C90.2 283.8 93 283.4 94.8 283.6C96.6 283.9 98.3 284.8 99.3 286.6C100.3 288.4 100.5 291.7 100.8 294.2C101 296.7 99 299.7 100.8 301.7Z" fill="rgb(38,35,33)" filter="url(#rough2)"/>
 <g filter="url(#soft2)"><path d="M90.6 320.2C92.1 317.7 94.9 313.9 98 312.1C101 310.3 105 310 109 309.4C113 308.8 117.5 308.5 121.8 308.5C126.1 308.5 130.6 308.8 134.6 309.4C138.6 310 142.5 310.6 145.5 312.1C148.6 313.6 151 315.9 152.9 318.4C154.7 321 155.6 324.5 156.6 327.5C157.5 330.5 158.3 333.5 158.3 336.5C158.3 339.6 157.8 343 156.6 345.7C155.3 348.4 153.2 350.5 151.1 352.9C149 355.3 146.8 358 143.7 360.2C140.7 362.3 136.4 364.6 132.7 365.6C129.1 366.5 125.5 366.5 121.8 366.1C118.1 365.6 114.1 364.3 110.8 363C107.4 361.6 104.2 359.6 101.6 357.8C99 355.9 96.9 354.1 95.2 352C93.5 350 92.5 348.6 91.6 345.7C90.6 342.8 90.1 337.8 89.7 334.8C89.3 331.7 89 329.9 89.1 327.5C89.3 325.1 89.1 322.8 90.6 320.2Z" fill="rgb(210,202,188)" filter="url(#rough)"/><ellipse cx="140" cy="340" rx="12" ry="14" fill="rgb(150,150,155)" opacity="0.5"/></g>
 <rect x="39" y="245" width="177" height="177" clip-path="url(#eAshClip)" filter="url(#ashTex)" style="mix-blend-mode:multiply"/>
 <rect x="39" y="245" width="177" height="177" clip-path="url(#eDarkClip)" filter="url(#charTex)" opacity="0.5"/>
 <rect x="39" y="245" width="177" height="177" mask="url(#ashEdgeMask)" filter="url(#edgeSpecks)"/>
 <rect x="39" y="245" width="153" height="1.2" fill="rgb(110,104,98)"/>
 <rect x="192" y="245" width="24" height="18" fill="#fff"/>
 <rect x="192" y="245" width="24" height="0.8" fill="#d8d8d8"/>
 <text x="203.3" y="258.3" text-anchor="middle" font-family="Liberation Serif, serif" font-weight="bold" font-size="11" fill="#1414ff">(e)</text>
</svg>
<svg x="333" y="245" width="175" height="175" viewBox="333 245 175 175" overflow="hidden"><g filter="url(#soft07)"><rect x="333" y="245" width="175" height="175" fill="rgb(226,227,231)"/><rect x="333" y="245" width="3.5" height="175" fill="rgb(165,165,165)"/><rect x="490" y="261" width="18" height="159" fill="rgb(180,181,185)"/><rect x="333" y="403" width="175" height="17" fill="rgb(200,198,198)"/><rect x="351" y="258" width="139" height="142" fill="rgb(166,144,104)"/><rect x="375" y="400" width="85" height="8" fill="rgb(150,138,128)"/></g><g filter="url(#soft3)"><ellipse cx="473" cy="305" rx="20" ry="45" fill="rgb(208,200,186)"/><ellipse cx="433" cy="273" rx="30" ry="10" fill="rgb(176,152,110)"/><ellipse cx="478" cy="353" rx="14" ry="16" fill="rgb(62,48,34)"/><ellipse cx="465" cy="382" rx="20" ry="9" fill="rgb(210,203,190)"/><ellipse cx="479" cy="325" rx="11" ry="30" fill="rgb(135,116,92)"/><rect x="351" y="258" width="24" height="142" fill="rgb(18,14,10)"/><rect x="351" y="258" width="139" height="4" fill="rgb(62,48,34)"/><ellipse cx="369" cy="269" rx="18" ry="11" fill="rgb(45,35,25)"/><ellipse cx="405" cy="271" rx="9" ry="6" fill="rgb(70,54,38)"/><rect x="351" y="373" width="40" height="27" fill="rgb(18,14,10)"/><ellipse cx="413" cy="395" rx="20" ry="5" fill="rgb(185,165,125)"/></g><rect x="351" y="257.5" width="139" height="2.5" fill="rgb(60,50,40)"/><rect x="488.5" y="270" width="2.5" height="130" fill="rgb(70,65,60)"/><rect x="351" y="258" width="139" height="142" filter="url(#foilBig)" style="mix-blend-mode:overlay" opacity="0.7"/><path d="M333 245h175v175h-175z M351 258v142h139v-142h-139z" fill-rule="evenodd" filter="url(#foilSmall)" style="mix-blend-mode:overlay" opacity="0.45"/><path d="M333 245h175v175h-175z M351 258v142h139v-142h-139z" fill-rule="evenodd" filter="url(#creaseS)" opacity="0.12"/><g filter="url(#rough2)"><path d="M377 288C379 284.8 381.2 283 384 281C386.8 279 390.5 276.7 394 276C397.5 275.3 401.3 276.5 405 277C408.7 277.5 412.2 278.7 416 279C419.8 279.3 424 278.5 428 279C432 279.5 436 281.3 440 282C444 282.7 448.3 282.2 452 283C455.7 283.8 459.2 285.2 462 287C464.8 288.8 467.3 291 469 294C470.7 297 471.5 301 472 305C472.5 309 472.2 313.5 472 318C471.8 322.5 470.8 327.3 471 332C471.2 336.7 473 341.3 473 346C473 350.7 472 355.7 471 360C470 364.3 469.2 369.2 467 372C464.8 374.8 461.7 375.7 458 377C454.3 378.3 449.7 379.3 445 380C440.3 380.7 435 380.8 430 381C425 381.2 420 381.2 415 381C410 380.8 404.5 380.3 400 380C395.5 379.7 392.2 379.5 388 379C383.8 378.5 378.3 378.5 375 377C371.7 375.5 369.5 373.7 368 370C366.5 366.3 366.2 360.8 366 355C365.8 349.2 366.5 341.2 367 335C367.5 328.8 368.2 323.8 369 318C369.8 312.2 370.7 305 372 300C373.3 295 375 291.2 377 288Z" fill="rgb(60,60,60)"/><g clip-path="url(#fCharClip)" filter="url(#soft5)"><ellipse cx="410" cy="336" rx="30" ry="24" fill="rgb(104,104,104)"/><ellipse cx="398" cy="293" rx="24" ry="11" fill="rgb(96,96,96)"/><ellipse cx="440" cy="298" rx="18" ry="10" fill="rgb(84,84,84)"/><ellipse cx="403" cy="309" rx="8" ry="5" fill="rgb(22,22,22)"/><ellipse cx="421" cy="312" rx="5" ry="5" fill="rgb(30,30,30)"/><ellipse cx="463" cy="335" rx="11" ry="40" fill="rgb(38,38,38)"/><ellipse cx="420" cy="379" rx="50" ry="6" fill="rgb(36,36,36)"/><ellipse cx="372" cy="340" rx="5" ry="40" fill="rgb(40,40,40)"/></g></g><rect x="333" y="245" width="175" height="175" clip-path="url(#fCharClip)" filter="url(#charTex2)" style="mix-blend-mode:overlay" opacity="0.65"/><rect x="484.5" y="245" width="23.5" height="18" fill="#fff"/><rect x="484.5" y="245" width="23.5" height="0.8" fill="#d8d8d8"/><text x="495" y="257.8" text-anchor="middle" font-family="Liberation Serif, serif" font-weight="bold" font-size="11" fill="#1414ff">(f)</text></svg>
</svg>
</body></html>
